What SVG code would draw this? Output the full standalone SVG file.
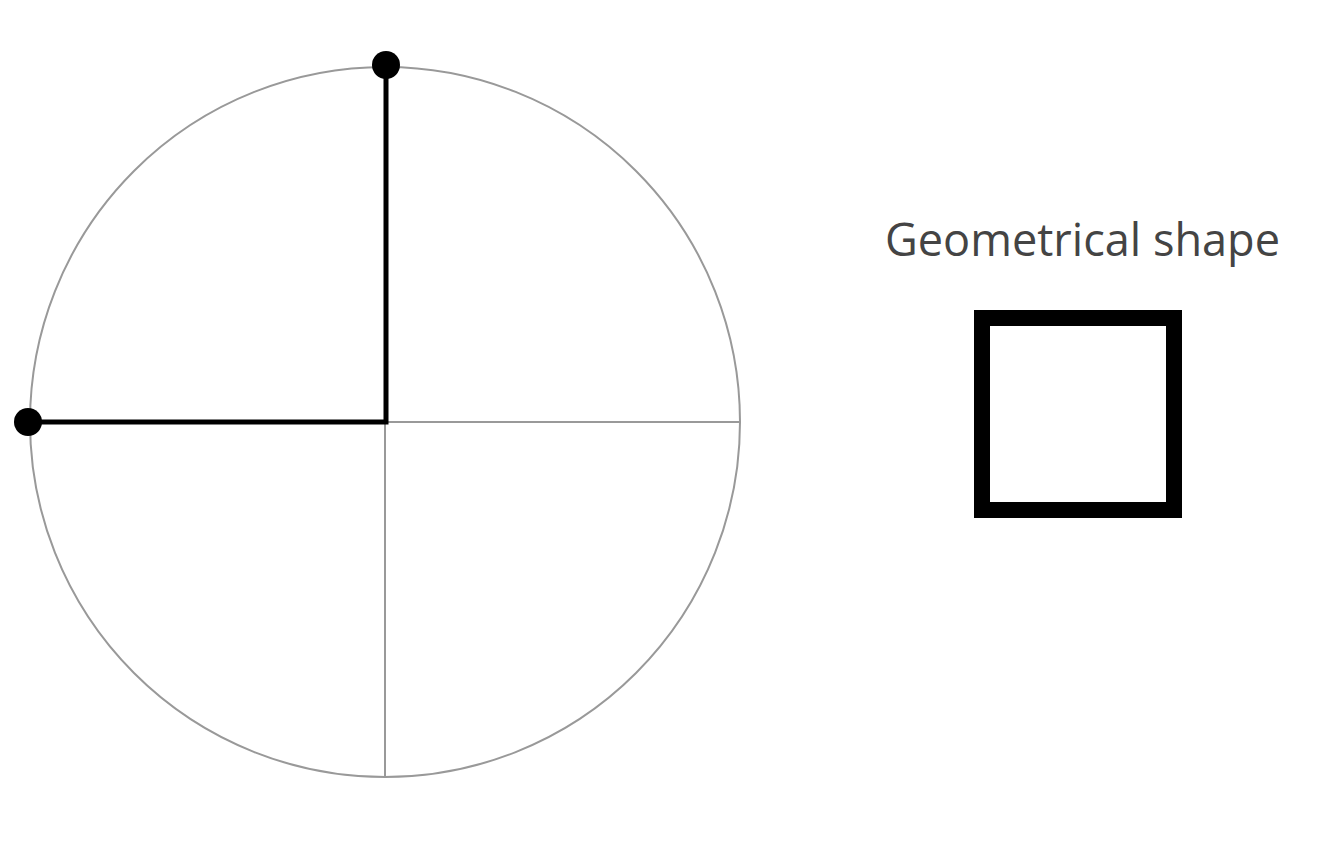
<svg xmlns="http://www.w3.org/2000/svg" width="1324" height="852" viewBox="0 0 1324 852">
<style>
.guide{fill:none;stroke:#999;stroke-width:2}
.bold{fill:none;stroke:#000;stroke-width:5}
.dot{fill:#000}
.label{font-family:"Open Sans","DejaVu Sans",sans-serif;font-size:46px;fill:#444}
</style>
<rect width="1324" height="852" fill="#fff"/>
<g id="circle">
<circle class="guide" cx="385" cy="422" r="355"/>
<line class="guide" x1="385" y1="422" x2="740" y2="422"/>
<line class="guide" x1="385" y1="422" x2="385" y2="777"/>
</g>
<g id="connectors">
<polyline class="bold" points="386,65 386,422 28,422"/>
</g>
<g id="dot-top"><circle class="dot" cx="386" cy="65" r="14"/></g>
<g id="dot-left"><circle class="dot" cx="28" cy="422" r="14"/></g>
<g id="legend">
<text class="label" x="885" y="256" textLength="395" lengthAdjust="spacingAndGlyphs">Geometrical shape</text>
<rect x="982" y="318" width="192" height="192" fill="none" stroke="#000" stroke-width="16"/>
</g>
</svg>
